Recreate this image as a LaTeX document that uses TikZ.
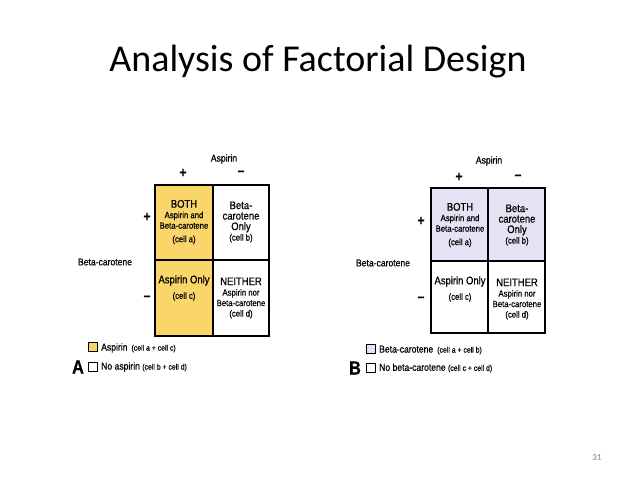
\documentclass[tikz,border=0pt]{standalone}
\usepackage{fontspec}
\setmainfont{Liberation Sans}[FakeStretch=0.86,FakeBold=0.6]
\newfontfamily\titlefont{Carlito}
\definecolor{yel}{HTML}{F9D56A}
\definecolor{lav}{HTML}{E3E3F3}
\begin{document}
\begin{tikzpicture}[x=1pt,y=-1pt,
  lbl/.style={font=\fontsize{10}{11}\selectfont,inner sep=0pt},
  sgn/.style={font=\fontsize{14}{14}\selectfont\bfseries,inner sep=0pt},
  cell/.style={font=\fontsize{9}{10.5}\selectfont,align=center,inner sep=0pt},
  grid/.style={line width=1.8pt},
  lbox/.style={draw,line width=0.9pt,minimum size=9pt,inner sep=0pt}]
\useasboundingbox (0,0) rectangle (638,478);
\node[font=\titlefont\fontsize{38}{40}\selectfont] (title) at (318,62) {Analysis of Factorial Design};
\node[font=\titlefont\fontsize{9}{10}\selectfont,text=gray] (pg) at (597,458) {31};
% Panel A
\fill[yel] (155,185) rectangle (213,336);
\draw[grid] (155,185) rectangle (269,336);
\draw[grid] (213,185) -- (213,336);
\draw[grid] (155,260) -- (269,260);
\node[lbl] (asA) at (224,159) {Aspirin};
\node[sgn] (pA) at (183,173) {+};
\node[sgn] (mA) at (241,173) {--};
\node[sgn] (pA2) at (147,217) {+};
\node[sgn] (mA2) at (147,298) {--};
\node[lbl] (bcA) at (105,262) {Beta-carotene};
\node[cell] (a1) at (184,222) {{\fontsize{11}{12}\selectfont BOTH}\\Aspirin and\\Beta-carotene\\[3pt](cell a)};
\node[cell] (b1) at (241,222) {{\fontsize{11}{13}\selectfont Beta-}\\{\fontsize{11}{13}\selectfont carotene}\\{\fontsize{11}{13}\selectfont Only}\\(cell b)};
\node[cell] (c1) at (184,288) {{\fontsize{11}{12}\selectfont Aspirin Only}\\[5pt](cell c)};
\node[cell] (d1) at (241,298) {{\fontsize{11}{12}\selectfont NEITHER}\\Aspirin nor\\Beta-carotene\\(cell d)};
\node[lbox,fill=yel] (la1) at (93,347) {};
\node[lbl,anchor=west] (lt1) at (101,348) {Aspirin \,{\fontsize{8}{9}\selectfont(cell a + cell c)}};
\node[lbox] (la2) at (93,367) {};
\node[lbl,anchor=west] (lt2) at (101,367) {No aspirin {\fontsize{8}{9}\selectfont(cell b + cell d)}};
\node[font=\fontsize{19}{19}\selectfont\bfseries,inner sep=0pt] (A) at (78,367) {A};
% Panel B
\fill[lav] (431,188) rectangle (545,261);
\draw[grid] (431,188) rectangle (545,333);
\draw[grid] (488,188) -- (488,333);
\draw[grid] (431,261) -- (545,261);
\node[lbl] (asB) at (489,161) {Aspirin};
\node[sgn] (pB) at (459,177) {+};
\node[sgn] (mB) at (518,177) {--};
\node[sgn] (pB2) at (421,221) {+};
\node[sgn] (mB2) at (421,299) {--};
\node[lbl] (bcB) at (383,263) {Beta-carotene};
\node[cell] (a2) at (460,225) {{\fontsize{11}{12}\selectfont BOTH}\\Aspirin and\\Beta-carotene\\[3pt](cell a)};
\node[cell] (b2) at (517,225) {{\fontsize{11}{13}\selectfont Beta-}\\{\fontsize{11}{13}\selectfont carotene}\\{\fontsize{11}{13}\selectfont Only}\\(cell b)};
\node[cell] (c2) at (460,289) {{\fontsize{11}{12}\selectfont Aspirin Only}\\[5pt](cell c)};
\node[cell] (d2) at (517,299) {{\fontsize{11}{12}\selectfont NEITHER}\\Aspirin nor\\Beta-carotene\\(cell d)};
\node[lbox,fill=lav] (lb1) at (371,349) {};
\node[lbl,anchor=west] (lu1) at (379,350) {Beta-carotene \,{\fontsize{8}{9}\selectfont(cell a + cell b)}};
\node[lbox] (lb2) at (371,368) {};
\node[lbl,anchor=west] (lu2) at (379,368) {No beta-carotene {\fontsize{8}{9}\selectfont(cell c + cell d)}};
\node[font=\fontsize{19}{19}\selectfont\bfseries,inner sep=0pt] (B) at (355,368) {B};
\end{tikzpicture}
\end{document}
